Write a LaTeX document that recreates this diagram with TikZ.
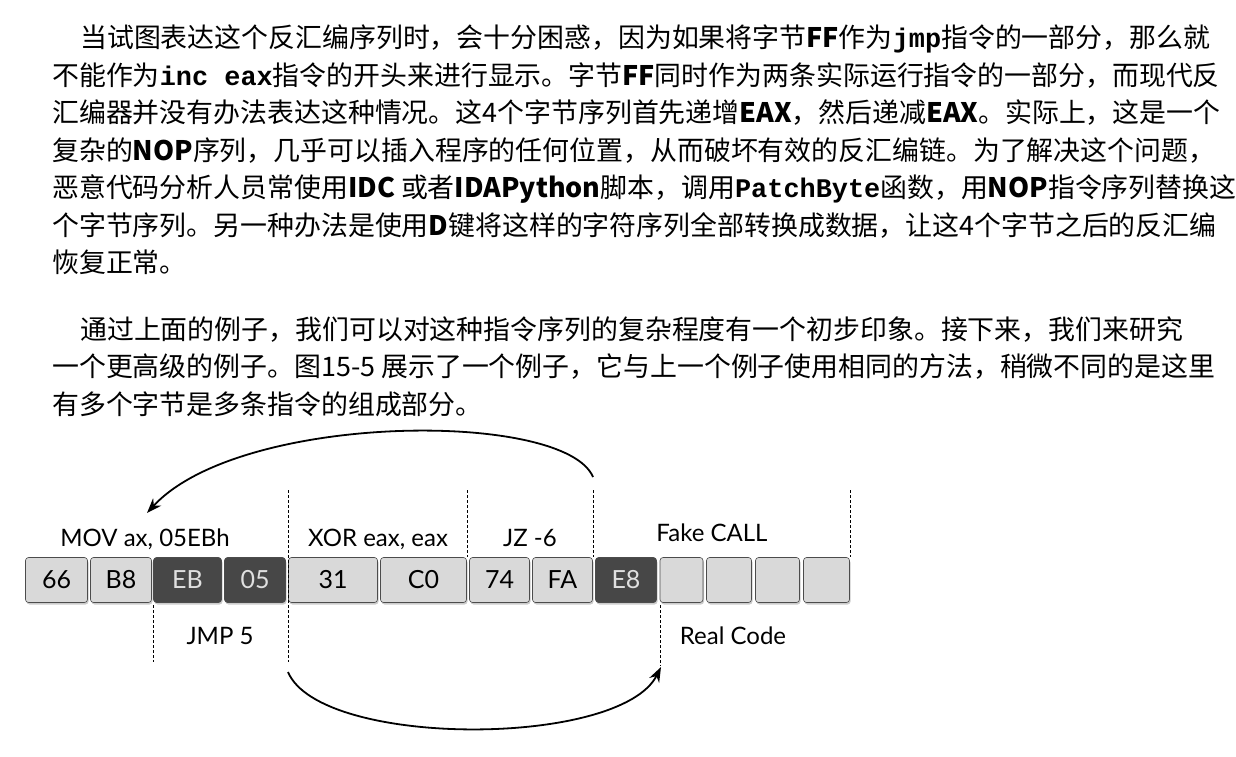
\documentclass[tikz,border=0pt]{standalone}
\usepackage{fontspec}
\setmainfont{Noto Sans CJK SC}
\setmonofont{Liberation Mono}
\newfontfamily\diag{Lato}
\usetikzlibrary{arrows.meta,shadows}
\begin{document}
\begin{tikzpicture}[x=1pt,y=-1pt,
  line/.style={anchor=base west,inner sep=0pt,font=\fontsize{26.9}{27}\selectfont},
  byte/.style={draw=black!70,line width=0.6pt,rounded corners=3pt,minimum height=45pt,inner sep=0pt,font=\diag\fontsize{25}{25}\selectfont,drop shadow={shadow xshift=1pt,shadow yshift=-2pt,opacity=0.4}},
  lite/.style={byte,fill=black!15},
  dark/.style={byte,fill=black!72,text=black!12},
  lab/.style={font=\diag\fontsize{24}{24}\selectfont,inner sep=0pt,anchor=base},
  sep/.style={densely dashed,line width=0.6pt},
  arr/.style={line width=1.8pt,-{Stealth[length=15pt,width=11pt]}}]
\useasboundingbox (0,0) rectangle (1236,756);
\newcommand\tb[1]{\textbf{#1}}
\newcommand\tm[1]{\texttt{\textbf{#1}}}
\node[line] (l1) at (80,47) {当试图表达这个反汇编序列时，会十分困惑，因为如果将字节\tb{FF}作为\tm{jmp}指令的一部分，那么就};
\node[line] (l2) at (52,85) {不能作为\tm{inc eax}指令的开头来进行显示。字节\tb{FF}同时作为两条实际运行指令的一部分，而现代反};
\node[line] (l3) at (52,122) {汇编器并没有办法表达这种情况。这4个字节序列首先递增\tb{EAX}，然后递减\tb{EAX}。实际上，这是一个};
\node[line] (l4) at (52,160) {复杂的\tb{NOP}序列，几乎可以插入程序的任何位置，从而破坏有效的反汇编链。为了解决这个问题，};
\node[line] (l5) at (52,197) {恶意代码分析人员常使用\tb{IDC} 或者\tb{IDAPython}脚本，调用\tm{PatchByte}函数，用\tb{NOP}指令序列替换这};
\node[line] (l6) at (52,235) {个字节序列。另一种办法是使用\tb{D}键将这样的字符序列全部转换成数据，让这4个字节之后的反汇编};
\node[line] (l7) at (52,272) {恢复正常。};
\node[line] (l8) at (80,339) {通过上面的例子，我们可以对这种指令序列的复杂程度有一个初步印象。接下来，我们来研究};
\node[line] (l9) at (52,376) {一个更高级的例子。图15-5 展示了一个例子，它与上一个例子使用相同的方法，稍微不同的是这里};
\node[line] (l10) at (52,414) {有多个字节是多条指令的组成部分。};
% bytes
\node[lite,minimum width=62pt] (b1) at (56.5,580) {66};
\node[lite,minimum width=61pt] (b2) at (121,580) {B8};
\node[dark,minimum width=68pt] (b3) at (187.5,580) {EB};
\node[dark,minimum width=61pt] (b4) at (255,580) {05};
\node[lite,minimum width=89pt] (b5) at (333,580) {31};
\node[lite,minimum width=86pt] (b6) at (423.5,580) {C0};
\node[lite,minimum width=60pt] (b7) at (499.5,580) {74};
\node[lite,minimum width=60pt] (b8) at (562.5,580) {FA};
\node[dark,minimum width=61pt] (b9) at (626,580) {E8};
\node[lite,minimum width=43pt] (b10) at (681.5,580) {};
\node[lite,minimum width=45pt] (b11) at (729,580) {};
\node[lite,minimum width=44pt] (b12) at (777.5,580) {};
\node[lite,minimum width=46pt] (b13) at (826.5,580) {};
% labels
\node[lab] (tmov) at (145,546) {MOV ax, 05EBh};
\node[lab] (txor) at (378,546) {XOR eax, eax};
\node[lab] (tjz) at (530,546) {JZ -6};
\node[lab] (tfake) at (712,541) {Fake CALL};
\node[lab] (tjmp) at (220,644) {JMP 5};
\node[lab] (treal) at (733,644) {Real Code};
% separators
\coordinate (s1t) at (153,605); \coordinate (s1b) at (153,662);
\coordinate (s2t) at (288,490); \coordinate (s2b) at (288,662);
\coordinate (s3t) at (467,490); \coordinate (s3b) at (467,557);
\coordinate (s4t) at (593,490); \coordinate (s4b) at (593,557);
\coordinate (s5t) at (850,490); \coordinate (s5b) at (850,557);
\coordinate (s6t) at (660,605); \coordinate (s6b) at (660,666);
\foreach \i in {1,...,6} \draw[sep] (s\i t) -- (s\i b);
% arrows
\coordinate (a1s) at (593,477); \coordinate (a1e) at (147,513);
\draw[arr] (a1s) .. controls (565,410) and (240,412) .. (a1e);
\coordinate (a2s) at (288,672); \coordinate (a2e) at (661,667);
\draw[arr] (a2s) .. controls (320,748) and (620,748) .. (a2e);
\end{tikzpicture}
\end{document}
